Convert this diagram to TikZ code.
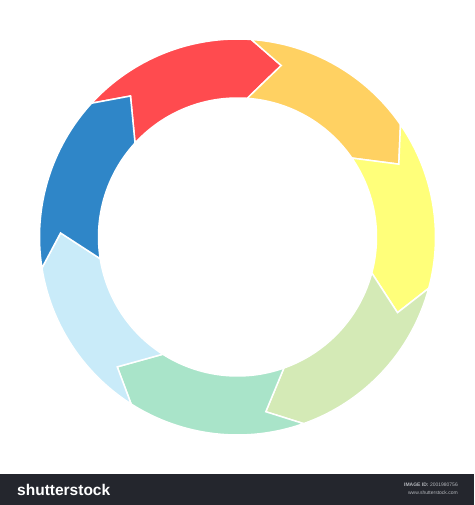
\documentclass[tikz,border=0pt]{standalone}
\usepackage{fontspec}
\newfontfamily\barfont{Liberation Sans}
\definecolor{ringred}{HTML}{FF4B4F}
\definecolor{ringorange}{HTML}{FFD162}
\definecolor{ringyellow}{HTML}{FFFF7A}
\definecolor{ringlime}{HTML}{D4EAB6}
\definecolor{ringteal}{HTML}{A9E4C9}
\definecolor{ringsky}{HTML}{C9EBF9}
\definecolor{ringblue}{HTML}{2F86C8}
\definecolor{barbg}{HTML}{24262D}
\definecolor{bargray}{HTML}{B4B7BC}
\begin{document}
\begin{tikzpicture}
[
   x=1pt, y=1pt,
   segment/.style={draw=white, line width=1.5pt, line join=miter},
   barlabel/.style={inner sep=0pt, font=\barfont}
]
\useasboundingbox (0,0) rectangle (474,505);
\fill[white] (0,0) rectangle (474,505);
\fill[barbg] (0,0) rectangle (474,31);
\begin{scope}[shift={(237.5,268)}]
\foreach \col/\angA/\angB in {ringred/137.5/86, ringorange/86/34.6, ringyellow/34.6/-15,
  ringlime/-15/-70.5, ringteal/-70.5/-122.5, ringsky/-122.5/-171, ringblue/-171/-222.5}
{
  \pgfmathsetmacro\tipA{\angA-10.3}
  \pgfmathsetmacro\tipB{\angB-10.3}
  \filldraw[segment, fill=\col] (\angA:198) arc[start angle=\angA, end angle=\angB, radius=198]
    -- (\tipB:177) -- (\angB:139) arc[start angle=\angB, end angle=\angA, radius=139]
    -- (\tipA:177) -- cycle;
}
\end{scope}
\node[barlabel, anchor=base west, text=white, font=\barfont\bfseries\fontsize{15.5}{15.5}\selectfont] (brand) at (17,9.5) {shutterstock};
\node[barlabel, anchor=base east, text=bargray, font=\barfont\fontsize{5}{5}\selectfont] (imageid) at (458,18) {\textbf{IMAGE ID:} 2001980756};
\node[barlabel, anchor=base east, text=bargray, font=\barfont\fontsize{5}{5}\selectfont] (website) at (458,10) {www.shutterstock.com};
\end{tikzpicture}
\end{document}
